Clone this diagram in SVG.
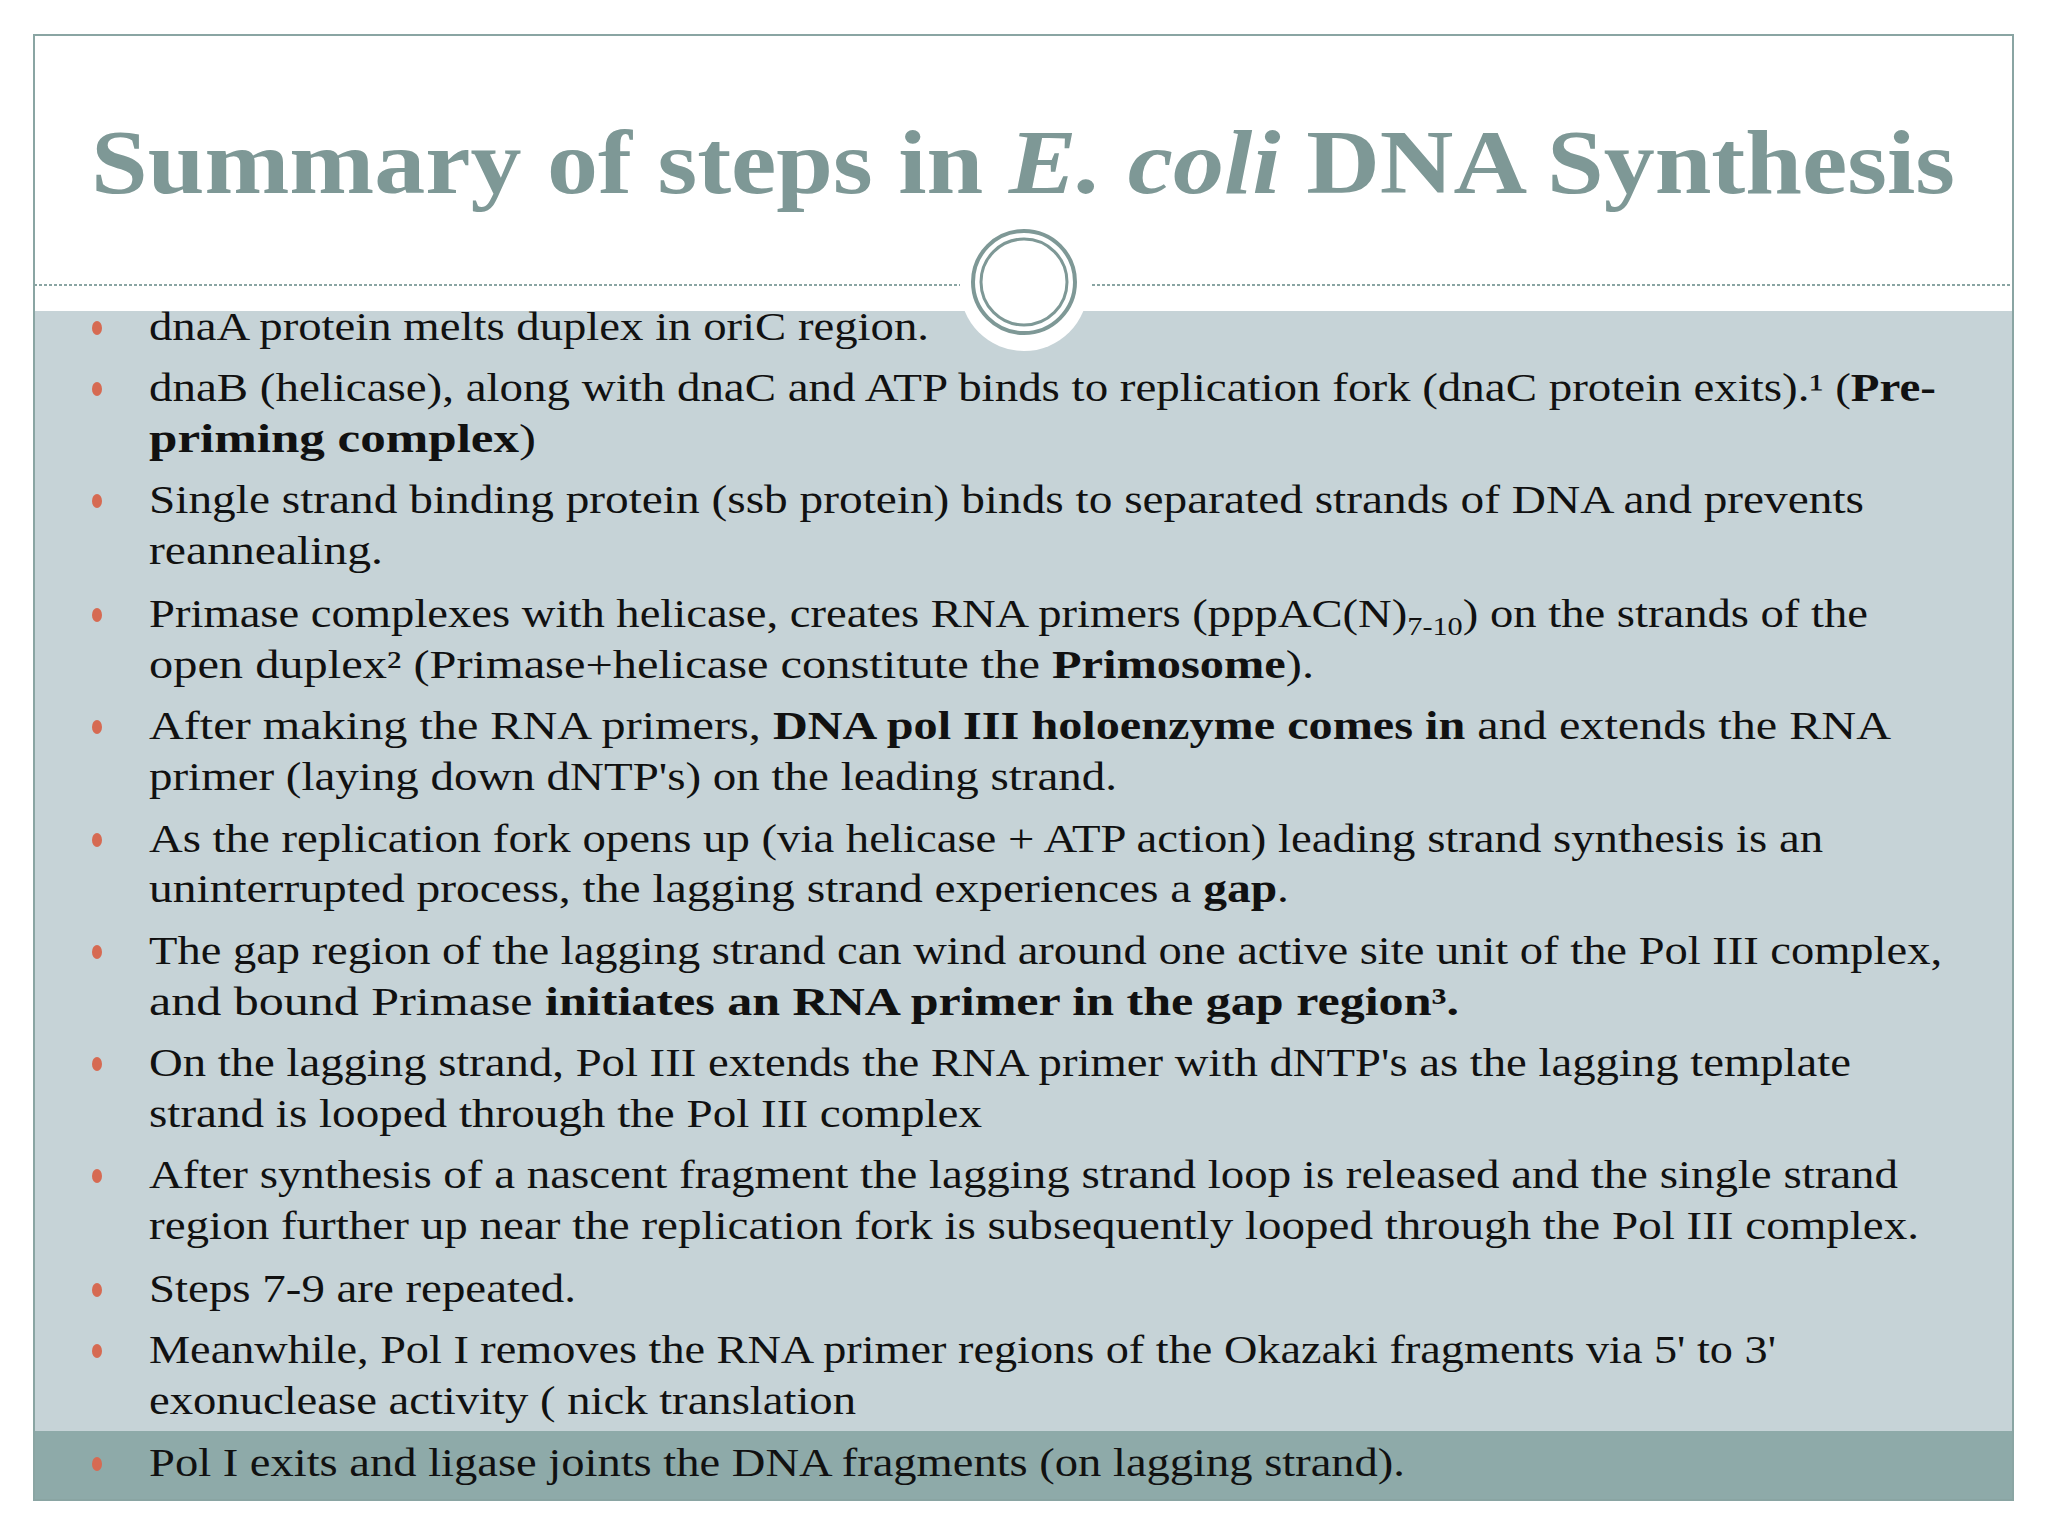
<svg xmlns="http://www.w3.org/2000/svg" width="2048" height="1536" viewBox="0 0 2048 1536">
<style>
.b{font-family:"Liberation Serif","DejaVu Serif",serif;font-size:40px;fill:#111}
.k{font-weight:bold}
.t{font-family:"Liberation Serif","DejaVu Serif",serif;font-size:90px;font-weight:bold;fill:#7e9896}
.d{fill:#d66a52}
</style>
<rect width="2048" height="1536" fill="#fff"/>
<g id="frame">
<rect x="34" y="311" width="1979" height="1189" fill="#c6d3d7"/>
<rect x="34" y="1431" width="1979" height="69" fill="#8eaaa9"/>
<rect x="34" y="35" width="1979" height="1465" fill="none" stroke="#8aa5a3" stroke-width="2"/>
<line x1="34" y1="285" x2="960" y2="285" stroke="#8aa5a3" stroke-width="2" stroke-dasharray="3,2"/>
<line x1="1092" y1="285" x2="2013" y2="285" stroke="#8aa5a3" stroke-width="2" stroke-dasharray="3,2"/>
<circle cx="1024" cy="287" r="64" fill="#fff"/>
<circle cx="1024" cy="282" r="51" fill="none" stroke="#7e9896" stroke-width="4"/>
<circle cx="1024" cy="282" r="43" fill="none" stroke="#7e9896" stroke-width="3"/>
</g>
<g id="title"><text class="t" x="91" y="193" textLength="1864" lengthAdjust="spacingAndGlyphs">Summary of steps in <tspan font-style="italic">E. coli</tspan> DNA Synthesis</text></g>
<g id="bullets">
<ellipse class="d" cx="97" cy="328" rx="5" ry="7"/>
<ellipse class="d" cx="97" cy="389" rx="5" ry="7"/>
<ellipse class="d" cx="97" cy="501" rx="5" ry="7"/>
<ellipse class="d" cx="97" cy="615" rx="5" ry="7"/>
<ellipse class="d" cx="97" cy="727" rx="5" ry="7"/>
<ellipse class="d" cx="97" cy="840" rx="5" ry="7"/>
<ellipse class="d" cx="97" cy="952" rx="5" ry="7"/>
<ellipse class="d" cx="97" cy="1064" rx="5" ry="7"/>
<ellipse class="d" cx="97" cy="1176" rx="5" ry="7"/>
<ellipse class="d" cx="97" cy="1290" rx="5" ry="7"/>
<ellipse class="d" cx="97" cy="1351" rx="5" ry="7"/>
<ellipse class="d" cx="97" cy="1464" rx="5" ry="7"/>
</g>
<g id="text">
<text class="b" x="149" y="340" textLength="780" lengthAdjust="spacingAndGlyphs">dnaA protein melts duplex in oriC region.</text>
<text class="b" x="149" y="401" textLength="1787" lengthAdjust="spacingAndGlyphs">dnaB (helicase), along with dnaC and ATP binds to replication fork (dnaC protein exits).¹ (<tspan class="k">Pre-</tspan></text>
<text class="b" x="149" y="452" textLength="387" lengthAdjust="spacingAndGlyphs"><tspan class="k">priming complex</tspan>)</text>
<text class="b" x="149" y="513" textLength="1715" lengthAdjust="spacingAndGlyphs">Single strand binding protein (ssb protein) binds to separated strands of DNA and prevents</text>
<text class="b" x="149" y="564" textLength="234" lengthAdjust="spacingAndGlyphs">reannealing.</text>
<text class="b" x="149" y="627" textLength="1719" lengthAdjust="spacingAndGlyphs">Primase complexes with helicase, creates RNA primers (pppAC(N)<tspan font-size="26" dy="8">7-10</tspan><tspan dy="-8">) on the strands of the</tspan></text>
<text class="b" x="149" y="678" textLength="1165" lengthAdjust="spacingAndGlyphs">open duplex² (Primase+helicase constitute the <tspan class="k">Primosome</tspan>).</text>
<text class="b" x="149" y="739" textLength="1742" lengthAdjust="spacingAndGlyphs">After making the RNA primers, <tspan class="k">DNA pol III holoenzyme comes in</tspan> and extends the RNA</text>
<text class="b" x="149" y="790" textLength="968" lengthAdjust="spacingAndGlyphs">primer (laying down dNTP's) on the leading strand.</text>
<text class="b" x="149" y="852" textLength="1674" lengthAdjust="spacingAndGlyphs">As the replication fork opens up (via helicase + ATP action) leading strand synthesis is an</text>
<text class="b" x="149" y="902" textLength="1140" lengthAdjust="spacingAndGlyphs">uninterrupted process, the lagging strand experiences a <tspan class="k">gap</tspan>.</text>
<text class="b" x="149" y="964" textLength="1793" lengthAdjust="spacingAndGlyphs">The gap region of the lagging strand can wind around one active site unit of the Pol III complex,</text>
<text class="b" x="149" y="1015" textLength="1310" lengthAdjust="spacingAndGlyphs">and bound Primase <tspan class="k">initiates an RNA primer in the gap region³.</tspan></text>
<text class="b" x="149" y="1076" textLength="1702" lengthAdjust="spacingAndGlyphs">On the lagging strand, Pol III extends the RNA primer with dNTP's as the lagging template</text>
<text class="b" x="149" y="1127" textLength="833" lengthAdjust="spacingAndGlyphs">strand is looped through the Pol III complex</text>
<text class="b" x="149" y="1188" textLength="1749" lengthAdjust="spacingAndGlyphs">After synthesis of a nascent fragment the lagging strand loop is released and the single strand</text>
<text class="b" x="149" y="1239" textLength="1770" lengthAdjust="spacingAndGlyphs">region further up near the replication fork is subsequently looped through the Pol III complex.</text>
<text class="b" x="149" y="1302" textLength="427" lengthAdjust="spacingAndGlyphs">Steps 7-9 are repeated.</text>
<text class="b" x="149" y="1363" textLength="1627" lengthAdjust="spacingAndGlyphs">Meanwhile, Pol I removes the RNA primer regions of the Okazaki fragments via 5' to 3'</text>
<text class="b" x="149" y="1414" textLength="707" lengthAdjust="spacingAndGlyphs">exonuclease activity ( nick translation</text>
<text class="b" x="149" y="1476" textLength="1256" lengthAdjust="spacingAndGlyphs">Pol I exits and ligase joints the DNA fragments (on lagging strand).</text>
</g>
</svg>
